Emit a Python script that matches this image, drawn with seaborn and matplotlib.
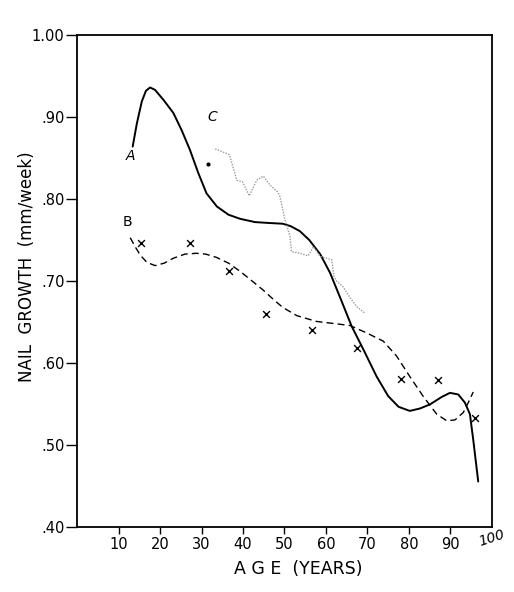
import matplotlib
matplotlib.use("Agg")
import matplotlib.pyplot as plt
import matplotlib.transforms as mtransforms
import seaborn as sns
import pandas as pd

# ---- data ----
a_age = [13.4, 14.4, 15.6, 16.6, 17.6, 18.8, 20.8, 23.2, 25.2, 27.2, 29.2, 31.2, 33.7,
         36.5, 39.3, 42.9, 46.0, 49.6, 51.5, 53.7, 56.0, 58.6, 61.0, 63.5, 66.2, 69.0,
         72.2, 75.0, 77.5, 80.2, 82.7, 85.1, 87.9, 89.9, 91.9, 93.5, 94.7, 95.5, 96.7]
a_val = [0.864, 0.892, 0.919, 0.932, 0.936, 0.933, 0.921, 0.905, 0.884, 0.860, 0.832,
         0.807, 0.791, 0.781, 0.776, 0.772, 0.771, 0.770, 0.767, 0.761, 0.750, 0.733,
         0.710, 0.679, 0.645, 0.617, 0.584, 0.560, 0.547, 0.542, 0.545, 0.550, 0.559,
         0.564, 0.562, 0.552, 0.538, 0.507, 0.456]

b_age = [12.8, 14.0, 15.2, 16.8, 18.8, 21.0, 23.2, 26.0, 28.8, 31.0, 33.6, 36.5, 39.3,
         42.0, 44.9, 47.5, 49.6, 53.0, 57.7, 61.0, 65.8, 69.8, 73.8, 77.0, 80.2, 83.4,
         86.7, 89.1, 91.1, 93.1, 94.3, 95.5]
b_val = [0.753, 0.742, 0.732, 0.723, 0.719, 0.722, 0.728, 0.733, 0.734, 0.733, 0.729,
         0.722, 0.712, 0.701, 0.689, 0.677, 0.668, 0.658, 0.651, 0.649, 0.646, 0.637,
         0.627, 0.609, 0.584, 0.560, 0.538, 0.530, 0.531, 0.540, 0.552, 0.565]

c_age = [33.3, 34.9, 36.7, 37.3, 38.5, 39.9, 41.5, 43.3, 44.9, 46.5, 48.3, 48.9, 50.1,
         51.3, 51.7, 53.7, 55.7, 57.0, 58.6, 60.2, 61.4, 61.9, 62.6, 64.0, 65.8, 67.4, 69.4]
c_val = [0.861, 0.858, 0.854, 0.844, 0.823, 0.821, 0.804, 0.823, 0.828, 0.817, 0.809,
         0.803, 0.775, 0.755, 0.736, 0.734, 0.731, 0.742, 0.730, 0.728, 0.726, 0.706,
         0.700, 0.694, 0.680, 0.669, 0.661]

x_age = [15.4, 27.2, 36.5, 45.5, 56.6, 67.4, 78.0, 86.9, 96.0]
x_val = [0.747, 0.746, 0.712, 0.660, 0.641, 0.619, 0.581, 0.580, 0.533]

dot_age = [31.6]
dot_val = [0.843]

curve_labels = ["A", "B", "C"]
label_age = [12.8, 12.1, 32.5]
label_val = [0.852, 0.772, 0.900]

x_ticks = [10, 20, 30, 40, 50, 60, 70, 80, 90]
y_ticks = [0.40, 0.50, 0.60, 0.70, 0.80, 0.90, 1.00]
y_ticklabels = [".40", ".50", ".60", ".70", ".80", ".90", "1.00"]

# ---- plot ----
sns.set_theme(style="white")
plt.rcParams["font.family"] = ["DejaVu Sans"]

fig = plt.figure(figsize=(5.14, 5.92), dpi=100)
ax = fig.add_axes([0.150, 0.109, 0.807, 0.832])

dfa = pd.DataFrame({"age": a_age, "val": a_val})
dfb = pd.DataFrame({"age": b_age, "val": b_val})
dfc = pd.DataFrame({"age": c_age, "val": c_val})
dfx = pd.DataFrame({"age": x_age, "val": x_val})

sns.lineplot(data=dfa, x="age", y="val", ax=ax, color="black", linewidth=1.4,
             sort=False, estimator=None)
sns.lineplot(data=dfb, x="age", y="val", ax=ax, color="black", linewidth=1.0,
             sort=False, estimator=None, dashes=False)
ax.lines[-1].set_dashes([5, 3])
sns.lineplot(data=dfc, x="age", y="val", ax=ax, color="#9a9a9a", linewidth=1.0,
             sort=False, estimator=None)
ax.lines[-1].set_linestyle((0, (1, 1)))
sns.scatterplot(data=dfx, x="age", y="val", ax=ax, marker="x", color="black",
                s=24, linewidth=1.0)
ax.scatter(dot_age, dot_val, s=4, color="black")

for lab, xa, ya in zip(curve_labels, label_age, label_val):
    style = "normal" if lab == "B" else "italic"
    ax.text(xa, ya, lab, fontsize=10, style=style, ha="center", va="center", color="black")

ax.set_xlim(0, 100)
ax.set_ylim(0.40, 1.00)
ax.set_xticks(x_ticks)
ax.set_xticklabels([str(t) for t in x_ticks])
ax.set_yticks(y_ticks)
ax.set_yticklabels(y_ticklabels)
ax.tick_params(axis="x", direction="out", length=5, width=1.0, pad=2,
               labelsize=10.5, colors="black", bottom=True)
ax.tick_params(axis="y", direction="out", length=8, width=1.0, pad=1,
               labelsize=10.5, colors="black", left=True)
for sp in ax.spines.values():
    sp.set_color("black")
    sp.set_linewidth(1.3)

ax.set_xlabel("")
ax.set_ylabel("")
trans = mtransforms.blended_transform_factory(ax.transData, ax.transAxes)
ax.text(100, -0.022, "100", transform=trans, rotation=18, style="italic",
        fontsize=10, ha="center", va="center", color="black")

fig.text(0.58, 0.039, "A G E  (YEARS)", fontsize=12.5, ha="center", va="center",
         color="black")
fig.text(0.053, 0.55, "NAIL  GROWTH  (mm/week)", fontsize=12, rotation=90,
         ha="center", va="center", color="black")

fig.savefig("out.png", dpi=100, facecolor="white")
